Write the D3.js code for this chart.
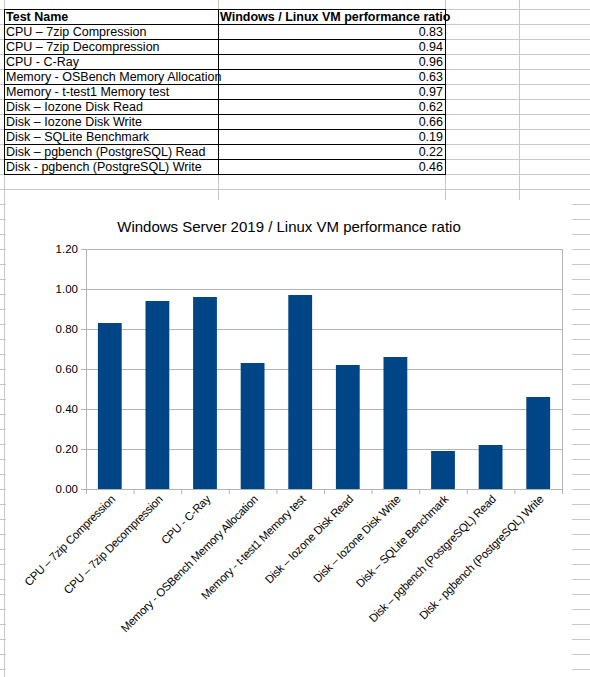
<!DOCTYPE html><html><head><meta charset="utf-8"><script src="https://cdn.jsdelivr.net/npm/d3@7"></script>
<style>body{margin:0;background:#fff}text{font-family:"Liberation Sans",Arial,sans-serif}</style></head><body>
<svg id="c" width="590" height="677"></svg>
<script>
const categories=["CPU – 7zip Compression","CPU – 7zip Decompression","CPU - C-Ray","Memory - OSBench Memory Allocation","Memory - t-test1 Memory test","Disk – Iozone Disk Read","Disk – Iozone Disk Write","Disk – SQLite Benchmark","Disk – pgbench (PostgreSQL) Read","Disk - pgbench (PostgreSQL) Write"];
const values=[0.83,0.94,0.96,0.63,0.97,0.62,0.66,0.19,0.22,0.46];
const yTicks=[0,0.2,0.4,0.6,0.8,1.0,1.2];
const headers=["Test Name","Windows / Linux VM performance ratio"];
const svg=d3.select("#c");
const g0=svg.append("g").attr("stroke","#c8c8c8");
for(let y=9;y<677;y+=15) g0.append("line").attr("x1",0).attr("x2",590).attr("y1",y+0.5).attr("y2",y+0.5);
[4,218,445,519].forEach(x=>g0.append("line").attr("x1",x+0.5).attr("x2",x+0.5).attr("y1",0).attr("y2",677));
svg.append("rect").attr("x",6).attr("y",200).attr("width",566).attr("height",477).attr("fill","#fff");
const rowH=15,tx0=4,tx1=218,tx2=445,ty0=9;
const tb=svg.append("g");
tb.append("rect").attr("x",tx0+0.5).attr("y",ty0+0.5).attr("width",tx2-tx0).attr("height",rowH*11).attr("fill","#fff").attr("stroke","#000");
for(let i=1;i<11;i++) tb.append("line").attr("x1",tx0).attr("x2",tx2).attr("y1",ty0+i*rowH+0.5).attr("y2",ty0+i*rowH+0.5).attr("stroke","#000");
tb.append("line").attr("x1",tx1+0.5).attr("x2",tx1+0.5).attr("y1",ty0).attr("y2",ty0+rowH*11).attr("stroke","#000");
tb.append("text").attr("x",tx0+2).attr("y",ty0+12).attr("font-size",12.5).attr("font-weight","bold").text(headers[0]);
tb.append("text").attr("x",tx1+2).attr("y",ty0+12).attr("font-size",12.5).attr("font-weight","bold").text(headers[1]);
categories.forEach((c,i)=>{
 const y=ty0+rowH*(i+1)+12;
 tb.append("text").attr("x",tx0+2).attr("y",y).attr("font-size",12.5).text(c);
 tb.append("text").attr("x",tx2-2).attr("y",y).attr("font-size",12.5).attr("text-anchor","end").text(values[i].toFixed(2));
});
const x0=86,x1=562;
const x=d3.scaleBand().domain(categories).range([x0,x1]).paddingInner(0.5).paddingOuter(0.25);
const y=d3.scaleLinear().domain([0,1.2]).range([489,249]);
svg.append("text").attr("x",289).attr("y",232).attr("text-anchor","middle").attr("font-size",15).attr("fill","#000").text("Windows Server 2019 / Linux VM performance ratio");
const gy=svg.append("g");
yTicks.forEach(t=>{
 gy.append("line").attr("x1",x0-5).attr("x2",x1).attr("y1",Math.round(y(t))+0.5).attr("y2",Math.round(y(t))+0.5).attr("stroke","#b3b3b3");
 gy.append("text").attr("x",x0-8).attr("y",y(t)+4).attr("text-anchor","end").attr("font-size",11.5).text(t.toFixed(2));
});
gy.append("line").attr("x1",x0+0.5).attr("x2",x0+0.5).attr("y1",249).attr("y2",494).attr("stroke","#b3b3b3");
gy.append("line").attr("x1",x1+0.5).attr("x2",x1+0.5).attr("y1",249).attr("y2",489).attr("stroke","#b3b3b3");
const step=(x1-x0)/categories.length;
for(let i=1;i<=categories.length;i++) gy.append("line").attr("x1",x0+0.5+i*step).attr("x2",x0+0.5+i*step).attr("y1",489).attr("y2",494).attr("stroke","#b3b3b3");
svg.append("g").selectAll("rect").data(values).join("rect")
 .attr("x",(d,i)=>x(categories[i])).attr("width",x.bandwidth())
 .attr("y",d=>y(d)).attr("height",d=>y(0)-y(d)).attr("fill","#004586");
svg.append("g").selectAll("text").data(categories).join("text")
 .attr("transform",d=>`translate(${x(d)+x.bandwidth()/2+6},${500}) rotate(-45)`)
 .attr("text-anchor","end").attr("font-size",11.5).attr("letter-spacing",-0.3).text(d=>d);
</script></body></html>
